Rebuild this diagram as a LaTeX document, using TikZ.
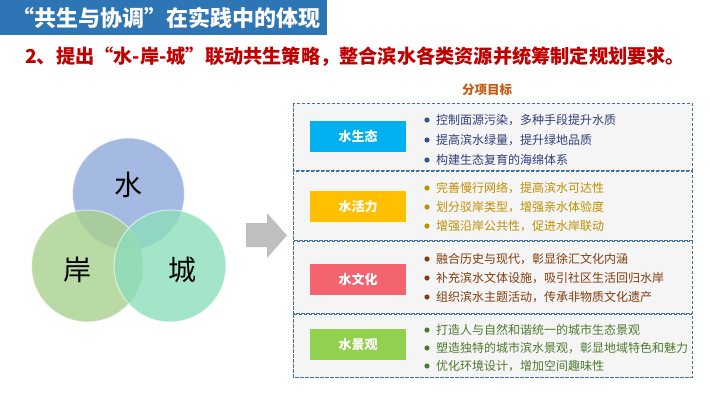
\documentclass[tikz,border=0pt]{standalone}
\usepackage{fontspec}
\setmainfont{Noto Sans CJK SC}
\usetikzlibrary{positioning}
\definecolor{titleblue}{HTML}{2E75B6}
\definecolor{subred}{HTML}{C00000}
\definecolor{orangeb}{HTML}{C55A11}
\definecolor{framec}{HTML}{41719C}
\definecolor{panel}{HTML}{F5F5F5}
\definecolor{cA}{HTML}{00B0F0}
\definecolor{cB}{HTML}{FFC000}
\definecolor{cC}{HTML}{F4646E}
\definecolor{cD}{HTML}{92D050}
\definecolor{tA}{HTML}{2F3F7A}
\definecolor{bA}{HTML}{2F5597}
\definecolor{tB}{HTML}{BF8F00}
\definecolor{tC}{HTML}{843C0C}
\definecolor{tD}{HTML}{4E7A2E}
\definecolor{vTop}{HTML}{8EA9DB}
\definecolor{vLeft}{HTML}{A9D18E}
\definecolor{vRight}{HTML}{8DDDBA}
\definecolor{arrowg}{HTML}{BFBFBF}
\tikzset{
  rowbox/.style={draw=framec, line width=0.8pt, dash pattern=on 3.5pt off 1.5pt, fill=panel},
  labelbox/.style={minimum width=96pt, minimum height=31pt, inner sep=0pt, text=white, font=\fontsize{13}{15}\selectfont\bfseries},
  item/.style={anchor=west, inner sep=0pt, font=\fontsize{12}{13}\selectfont},
  vcircle/.style={circle, minimum size=112pt, inner sep=0pt, fill opacity=0.8, draw=white, draw opacity=0.6, line width=1pt, text opacity=1, font=\fontsize{28}{30}\selectfont}
}
\begin{document}
\begin{tikzpicture}[x=1pt,y=-1pt]
\useasboundingbox (0,0) rectangle (710,407);
% title bar
\fill[titleblue] (0,0) rectangle (327,35);
\node[anchor=west, inner sep=0pt, text=white, font=\fontsize{22}{24}\selectfont\bfseries] (title) at (12,17.5) {“共生与协调”在实践中的体现};
\node[anchor=west, inner sep=0pt, text=subred, font=\fontsize{19.2}{21}\selectfont\bfseries] (sub) at (25,57) {2、提出“水-岸-城”联动共生策略，整合滨水各类资源并统筹制定规划要求。};
% Venn
\node[vcircle, fill=vTop] (water) at (128.5,194) {};
\node[vcircle, fill=vLeft] (bank) at (87.5,266) {};
\node[vcircle, fill=vRight] (city) at (170,266) {};
\node[font=\fontsize{28}{30}\selectfont] (wt) at (128.5,185) {水};
\node[font=\fontsize{28}{30}\selectfont] (bt) at (77,270) {岸};
\node[font=\fontsize{28}{30}\selectfont] (ct) at (182,270) {城};
% arrow
\fill[arrowg] (246,223) -- (267,223) -- (267,213) -- (287,235.5) -- (267,258) -- (267,247) -- (246,247) -- cycle;
% heading
\node[inner sep=0pt, text=orangeb, font=\fontsize{12.5}{14}\selectfont\bfseries] (head) at (487,90) {分项目标};
% rows
\draw[rowbox] (293,103) rectangle (692,170);
\draw[rowbox] (293,171) rectangle (692,240);
\draw[rowbox] (293,241) rectangle (692,313);
\draw[rowbox] (293,314) rectangle (692,377);
% labels
\node[labelbox, fill=cA] (l1) at (358,136) {水生态};
\node[labelbox, fill=cB] (l2) at (358,206.5) {水活力};
\node[labelbox, fill=cC] (l3) at (358,279.5) {水文化};
\node[labelbox, fill=cD] (l4) at (358,344.5) {水景观};
% bullets
\foreach \y/\t [count=\i] in {120/控制面源污染，多种手段提升水质, 140/提高滨水绿量，提升绿地品质, 160/构建生态复育的海绵体系}{
  \fill[bA] (427,\y) circle (2.6);
  \node[item, text=tA] (a\i) at (436,\y) {\t};
}
\foreach \y/\t [count=\i] in {188/完善慢行网络，提高滨水可达性, 207/划分驳岸类型，增强亲水体验度, 226/增强沿岸公共性，促进水岸联动}{
  \fill[tB] (427,\y) circle (2.6);
  \node[item, text=tB] (b\i) at (436,\y) {\t};
}
\foreach \y/\t [count=\i] in {259/融合历史与现代，彰显徐汇文化内涵, 278/补充滨水文体设施，吸引社区生活回归水岸, 297/组织滨水主题活动，传承非物质文化遗产}{
  \fill[tC] (427,\y) circle (2.6);
  \node[item, text=tC] (c\i) at (436,\y) {\t};
}
\foreach \y/\t [count=\i] in {330/打造人与自然和谐统一的城市生态景观, 348/塑造独特的城市滨水景观，彰显地域特色和魅力, 366/优化环境设计，增加空间趣味性}{
  \fill[tD] (427,\y) circle (2.6);
  \node[item, text=tD] (d\i) at (436,\y) {\t};
}
\end{tikzpicture}
\end{document}
